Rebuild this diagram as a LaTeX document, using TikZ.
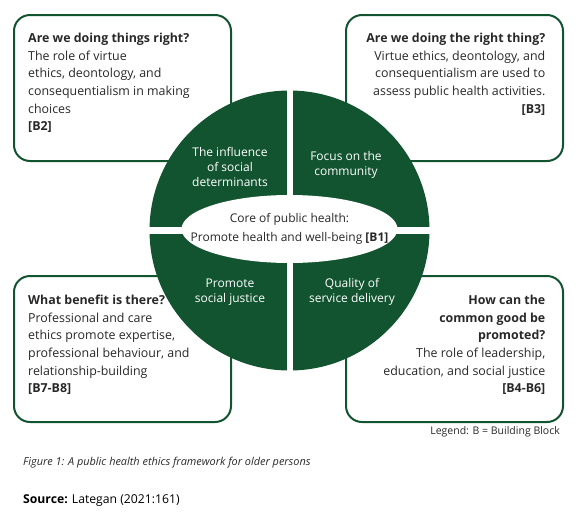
\documentclass[tikz,border=0pt]{standalone}
\usepackage{fontspec}
\setmainfont{Open Sans}
\usetikzlibrary{shapes.geometric}
\definecolor{pgreen}{RGB}{18,84,48}
\definecolor{ptext}{RGB}{40,40,40}
\tikzset{
  qbox/.style={draw=pgreen, line width=2pt, rounded corners=16pt, minimum width=217pt, minimum height=146pt, anchor=north west, inner sep=0pt},
  boxtext/.style={inner sep=0pt, text=ptext, font=\fontsize{12.4}{17.6}\selectfont},
  qlabel/.style={inner sep=0pt, text=white, align=center, font=\fontsize{12}{14.6}\selectfont},
  smalltext/.style={inner sep=0pt, text=ptext}
}
\begin{document}
\begin{tikzpicture}[x=1pt,y=-1pt]
\useasboundingbox (0,0) rectangle (580,517);
% boxes
\node[qbox] (b2) at (13,14) {};
\node[qbox] (b3) at (345,14) {};
\node[qbox] (b7) at (13,275) {};
\node[qbox] (b4) at (345,275) {};
% disk
\node[circle, fill=pgreen, minimum size=280pt, inner sep=0pt] (disk) at (289.5,230.5) {};
\begin{scope}
\clip (disk.center) circle[radius=141pt];
\fill[white] (286.5,80) rectangle (292.5,380);
\fill[white] (140,227) rectangle (440,234);
\end{scope}
\node[ellipse, fill=white, minimum width=216pt, minimum height=68pt, inner sep=0pt] (core) at (289.5,229) {};
\node[inner sep=0pt, text=ptext, align=center, font=\fontsize{12}{18.5}\selectfont] (coretext) at (core.center) {Core of public health:\\Promote health and well-being \textbf{[B1]}};
% quadrant labels
\node[qlabel] (q1) at (230,167) {The influence\\of social\\determinants};
\node[qlabel] (q2) at (346,165) {Focus on the\\community};
\node[qlabel] (q3) at (230,292) {Promote\\social justice};
\node[qlabel] (q4) at (352,292) {Quality of\\service delivery};
% box texts
\node[boxtext, anchor=north west, align=left] (t2) at (28,33) {\textbf{Are we doing things right?}\\The role of virtue\\ethics, deontology, and\\consequentialism in making\\choices\\\textbf{[B2]}};
\node[boxtext, anchor=north east, align=right] (t3) at (545.5,33) {\textbf{Are we doing the right thing?}\\Virtue ethics, deontology, and\\consequentialism are used to\\assess public health activities.\\\textbf{[B3]}};
\node[boxtext, anchor=north west, align=left] (t7) at (28,295) {\textbf{What benefit is there?}\\Professional and care\\ethics promote expertise,\\professional behaviour, and\\relationship-building\\\textbf{[B7-B8]}};
\node[boxtext, anchor=north east, align=right] (t4) at (545.5,295) {\textbf{How can the}\\\textbf{common good be}\\\textbf{promoted?}\\The role of leadership,\\education, and social justice\\\textbf{[B4-B6]}};
% legend and caption
\node[smalltext, anchor=east, font=\fontsize{10.5}{12}\selectfont] (legend) at (560,432) {Legend: B = Building Block};
\node[smalltext, anchor=west, font=\fontsize{10.9}{12}\selectfont\itshape] (caption) at (23,463) {Figure 1: A public health ethics framework for older persons};
\node[inner sep=0pt, text=black, anchor=west, font=\fontsize{12.2}{15}\selectfont] (source) at (23,501) {\textbf{Source:} Lategan (2021:161)};
\end{tikzpicture}
\end{document}
